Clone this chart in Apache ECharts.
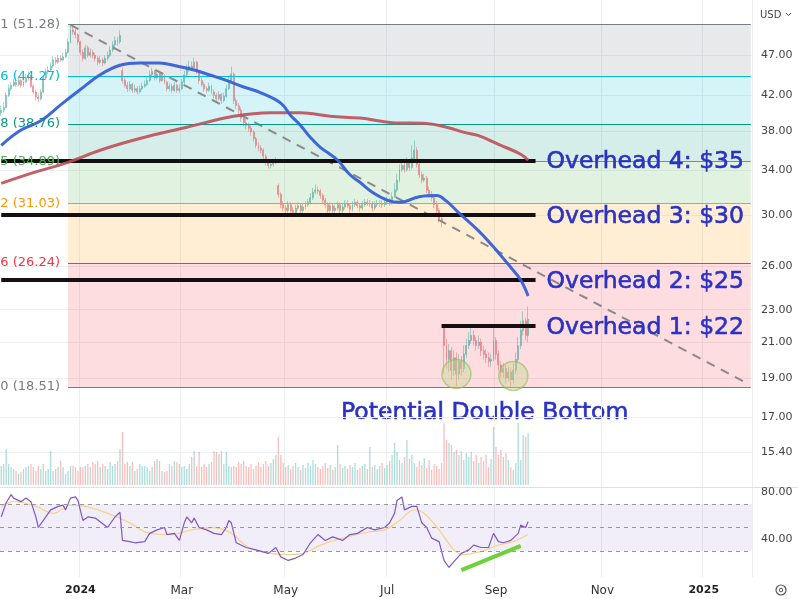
<!DOCTYPE html>
<html><head><meta charset="utf-8">
<script src="https://cdn.jsdelivr.net/npm/echarts@6/dist/echarts.min.js"></script>
<style>html,body{margin:0;padding:0;background:#fff}#c{width:798px;height:599px}</style>
</head><body><div id="c"></div>
<script>
// ---------- data ----------
const holidays = ['2023-11-23','2023-12-25','2024-01-01','2024-01-15','2024-02-19','2024-03-29','2024-05-27','2024-06-19','2024-07-04','2024-09-02','2024-11-28','2024-12-25','2025-01-01','2025-01-20'];
const startDate = '2023-11-14';
const totalBars = 304;

const closes = [
40.3,40.6,42.0,42.8,43.2,43.6,43.3,43.8,43.2,43.6,
44.1,44.4,43.1,42.4,41.8,41.6,42.4,44.1,44.9,45.1,
45.6,46.4,46.1,46.6,46.4,46.8,47.4,48.8,50.5,50.2,
49.8,48.8,47.4,46.6,48.0,47.0,47.4,47.0,46.6,46.1,
46.4,46.0,46.6,47.0,47.7,48.4,49.0,48.8,49.7,43.8,
43.2,42.8,43.3,42.6,42.8,42.4,42.8,43.1,43.3,43.8,
44.5,44.9,44.1,44.6,43.8,44.4,43.6,42.8,43.1,42.6,
43.2,42.6,42.8,43.6,44.5,45.1,45.6,45.4,46.1,44.9,
43.8,43.3,42.8,42.6,43.1,42.4,42.0,41.6,42.1,41.4,
41.9,42.8,43.8,44.6,41.4,40.8,40.3,39.4,38.9,38.6,
38.3,37.9,37.2,36.5,36.2,36.0,35.4,34.8,34.5,34.6,
34.8,35.0,31.8,30.9,30.6,30.4,30.9,30.4,30.2,30.6,
30.8,30.4,30.7,30.9,31.1,31.5,32.0,32.2,32.1,31.7,
31.3,30.9,30.4,30.8,30.4,30.6,30.9,30.4,30.7,31.0,
30.8,30.5,30.9,31.1,30.8,30.6,30.9,31.1,31.0,31.0,
30.6,30.9,31.0,31.0,30.9,31.1,31.3,31.0,31.6,32.2,
33.1,34.1,34.5,34.1,34.8,34.3,35.2,36.0,34.6,33.6,
33.1,33.3,32.2,31.8,31.5,30.9,30.4,29.7,29.4,20.8,
20.0,20.5,19.4,20.1,19.2,19.9,19.5,20.3,20.8,21.1,
21.4,21.1,20.8,21.0,20.5,20.3,20.1,19.9,20.0,21.1,
20.3,19.7,19.3,19.5,19.0,19.3,18.9,19.4,20.0,20.8,
21.7,22.3,21.4,22.4];
const highs = [
40.8,41.2,42.4,43.3,43.6,44.0,44.2,44.3,44.0,44.0,
44.6,44.9,44.5,43.3,42.7,42.2,42.7,44.4,45.3,45.6,
46.1,46.9,46.8,47.1,47.0,47.3,47.9,49.3,51.28,51.0,
50.6,50.0,49.0,47.8,48.4,48.3,47.9,47.8,47.3,46.9,
46.9,46.7,47.0,47.5,48.2,48.9,49.6,49.5,50.4,45.4,
44.2,43.6,43.7,43.5,43.3,43.1,43.2,43.5,43.8,44.3,
45.0,45.4,45.1,45.0,44.8,44.8,44.6,43.8,43.5,43.4,
43.6,43.4,43.3,44.0,45.0,45.8,46.3,46.2,46.7,46.3,
45.1,44.1,43.6,43.1,43.5,43.3,42.7,42.3,42.5,42.3,
42.3,43.3,44.4,45.5,44.8,41.7,41.1,40.6,39.7,39.3,
38.9,38.6,38.1,37.4,36.8,36.5,36.2,35.6,35.0,34.9,
35.1,35.3,32.8,32.0,31.2,30.9,31.2,31.1,30.7,30.9,
31.1,31.0,31.0,31.2,31.4,31.9,32.4,32.7,32.5,32.3,
31.9,31.5,31.1,31.1,31.0,30.9,31.2,31.1,31.0,31.3,
31.3,31.0,31.2,31.4,31.3,31.0,31.2,31.4,31.4,31.3,
31.2,31.2,31.3,31.3,31.3,31.4,31.6,31.5,32.0,32.8,
33.7,34.6,35.0,34.9,35.3,35.1,36.5,37.0,36.3,34.9,
33.9,33.7,33.5,32.5,32.1,31.7,31.2,30.6,30.0,22.0,
21.2,20.9,20.7,20.5,20.4,20.3,20.2,20.8,21.2,21.6,
21.9,21.7,21.3,21.4,21.2,20.8,20.6,20.4,20.3,22.0,
21.3,20.5,19.9,19.8,19.7,19.6,19.5,19.8,20.4,21.3,
22.3,22.9,22.5,23.2];
const lows = [
39.6,40.0,40.5,41.8,42.5,43.0,43.0,43.1,42.9,43.0,
43.4,43.8,42.9,42.1,41.4,41.2,41.4,42.3,43.9,44.6,
44.9,45.4,45.8,45.9,46.1,46.2,46.6,47.2,48.6,49.8,
49.3,48.4,47.0,46.2,46.4,46.7,46.7,46.6,46.2,45.7,
45.8,45.6,45.8,46.3,46.8,47.4,48.1,48.3,48.5,43.4,
42.9,42.4,42.5,42.3,42.3,42.1,42.2,42.6,42.9,43.1,
43.6,44.2,43.8,43.9,43.5,43.6,43.3,42.5,42.5,42.3,
42.4,42.3,42.3,42.6,43.4,44.3,44.9,45.0,45.2,44.6,
43.4,43.0,42.4,42.2,42.4,42.1,41.6,41.2,41.4,41.0,
41.2,41.7,42.6,43.5,41.0,40.4,39.9,39.0,38.5,38.2,
37.9,37.5,36.9,36.2,35.9,35.7,35.1,34.5,34.2,34.2,
34.4,34.6,31.5,30.6,30.3,30.1,30.2,30.1,30.0,30.0,
30.4,30.1,30.2,30.5,30.7,30.9,31.3,31.8,31.8,31.4,
31.0,30.6,30.1,30.2,30.1,30.2,30.4,30.1,30.2,30.5,
30.6,30.2,30.3,30.7,30.6,30.3,30.4,30.7,30.8,30.7,
30.3,30.4,30.7,30.7,30.6,30.7,30.9,30.8,30.9,31.5,
32.0,32.9,33.9,33.8,33.9,34.0,34.1,35.0,34.3,33.3,
32.8,32.9,31.9,31.5,31.2,30.6,30.1,29.4,29.0,19.2,
19.5,19.3,18.9,19.1,18.55,18.9,19.1,19.3,20.1,20.6,
20.9,20.8,20.5,20.6,20.2,20.0,19.8,19.6,19.6,19.9,
20.0,19.4,19.0,19.0,18.7,18.8,18.51,18.7,19.2,19.8,
20.6,21.4,21.1,21.0];
// opens on gap days (other days open at the previous close)
const gapOpens = {0: 40.0, 49: 45.0, 112: 32.6, 179: 21.9};
const volumes = [
19,21,36,21,18,16,14,11,13,16, 18,19,21,18,14,19,16,21,14,16,
34,14,16,18,24,18,11,14,19,19, 18,14,18,18,19,21,18,23,21,24,
18,21,19,16,23,19,21,24,36,53, 21,23,19,23,14,16,21,19,19,18,
14,18,24,26,24,14,13,14,21,19, 24,23,21,18,19,16,21,28,34,19,
33,18,21,18,21,23,34,33,31,34, 21,33,19,18,19,18,23,21,24,19,
18,21,16,19,23,18,21,24,19,22, 26,30,48,30,22,18,20,16,19,22,
18,15,20,17,22,19,25,21,18,16, 19,22,17,20,15,18,40,21,17,19,
16,20,18,22,15,17,19,21,16,38, 18,20,16,19,22,17,20,24,30,42,
33,25,22,28,45,26,30,22,18,24, 20,27,17,25,15,21,19,16,22,62,
45,42,40,33,35,30,34,25,32,28, 33,24,30,22,28,24,30,18,26,58,
38,30,35,28,32,25,18,15,22,62, 25,50,48,52];

const maFastIdx = [0,8,16,24,32,40,48,56,64,71,78,84,91,98,105,113,117,121,125,129,136,141,145,150,156,161,169,176,180,185,193,201,206,210,213];
const maFastVal = [36.5,38.1,39.1,40.9,42.7,44.5,45.7,46.0,46.0,45.6,45.1,44.5,43.8,43.0,42.3,41.1,39.7,38.6,37.3,36.3,35.0,33.6,32.9,32.0,31.3,31.1,31.6,31.7,31.2,30.2,28.7,27.0,25.9,25.0,23.9];
const maSlowIdx = [0,13,27,40,56,75,94,109,121,133,145,158,172,180,188,193,201,210,213];
const maSlowVal = [32.8,33.8,34.8,36.0,37.2,38.4,39.6,40.0,40.0,39.6,39.4,38.9,38.8,38.4,37.8,37.5,36.6,35.6,35.0];

const rsiIdx = [0,2,4,5,8,10,12,14,15,18, 20,23,25,26,28,30,31,33,35,38, 43,46,48,49,52,54,58,60,63,66, 67,70,72,74,75,77,78,80,83,86, 89,91,92,93,95,99,103,108,111,113, 116,119,122,125,128,131,134,138,141,144, 148,151,155,157,159,160,162,163,166,168, 170,172,174,177,179,181,183,186,189,191, 194,197,199,201,203,206,209,210,212,213];
const rsiVal = [59,71,78,75,72,75,72,59,50,59, 65,68,69,65,75,76,73,56,59,58, 50,59,63,39,38,37,38,45,48,50, 44,45,39,54,59,54,58,50,48,45, 44,50,56,54,37,33,31,28,33,25, 22,24,27,37,44,39,42,39,44,45, 50,48,50,54,62,73,76,65,68,68, 54,50,41,38,22,16,21,28,31,35, 33,33,45,38,37,39,45,52,50,55];
const rsiMaIdx = [0,5,14,21,28,34,43,52,60,69,77,86,93,100,109,115,122,129,138,148,155,161,167,171,177,183,187,193,201,207,213];
const rsiMaVal = [68,72,68,62,69,68,62,54,45,44,48,50,45,33,28,27,28,35,41,46,48,56,65,62,48,31,27,29,35,38,44];

const fibRatios = ['1','0.786','0.618','0.5','0.382','0.236','0'];
const fibPrices = [51.28,44.27,38.76,34.89,31.03,26.24,18.51];
const fibStartIdx = 27;

const overheadPrices = [35,30,25,22];
const overheadLabels = ['Overhead 4: $35','Overhead 3: $30','Overhead 2: $25','Overhead 1: $22'];
const overheadFrom = [0,0,0,178];
const overheadTo = [216,216,216,216];

const trendIdx = [28,302];
const trendVal = [51.2,18.67];
const circleIdx = [184,207];
const circleVal = [19.2,19.1];
const rsiTrendIdx = [186,210];
const rsiTrendVal = [13.8,34.3];

const priceTicks = [47,42,38,34,30,26,23,21,19,17,15.4];
const rsiTicks = [80,40];
const rsiLevels = [70,50,30];

// ---------- build ----------
const fibColors = ['#787b86','#00bcd4','#089981','#4caf50','#ff9800','#f23645','#787b86'];
function rgba(hex,a){const n=parseInt(hex.slice(1),16);return `rgba(${n>>16},${(n>>8)&255},${n&255},${a})`;}

const dates = [];
{
  let t = Date.parse(startDate + 'T00:00:00Z');
  while (dates.length < totalBars) {
    const d = new Date(t);
    const dow = d.getUTCDay();
    const s = d.toISOString().slice(0,10);
    if (dow !== 0 && dow !== 6 && holidays.indexOf(s) < 0) dates.push(s);
    t += 86400000;
  }
}
const monthNames = ['Jan','Feb','Mar','Apr','May','Jun','Jul','Aug','Sep','Oct','Nov','Dec'];
function isMark(i){
  if (i <= 0) return false;
  const m = +dates[i].slice(5,7), pm = +dates[i-1].slice(5,7);
  return m !== pm && (m - 1) % 2 === 0;
}
const opens = closes.map((c,i)=> gapOpens[i] !== undefined ? gapOpens[i] : closes[i-1]);
const candleData = closes.map((c,i)=>[opens[i], c, lows[i], highs[i]]);
const volData = volumes.map((v,i)=>({value:v, itemStyle:{color: closes[i] >= opens[i] ? 'rgba(38,166,154,0.38)' : 'rgba(239,83,80,0.38)'}}));
const pairs = (ix, vs) => ix.map((k,j)=>[dates[k], vs[j]]);

const lastIdx = totalBars - 1;
const fibArea = [];
for (let k = 0; k < fibPrices.length - 1; k++) {
  fibArea.push([{coord:[dates[fibStartIdx], fibPrices[k]], itemStyle:{color: rgba(fibColors[k],0.17)}}, {coord:[dates[lastIdx], fibPrices[k+1]]}]);
}
const fibLines = fibPrices.map((p,k)=>[
  {coord:[dates[fibStartIdx], p], name: fibRatios[k] + ' (' + p.toFixed(2) + ')', lineStyle:{color: fibColors[k], width:1.2, type:'solid'}, label:{color: fibColors[k]}},
  {coord:[dates[lastIdx], p]}
]);

const xCommon = {type:'category', data: dates, boundaryGap: true, axisLine:{show:false}, axisTick:{show:false}};
const annoColor = '#2a31c4';

const option = {
  animation: false,
  backgroundColor: '#ffffff',
  grid: [
    {left:0, right:46, top:0, height:487},
    {left:0, right:46, top:423, height:62},
    {left:0, right:46, top:488, height:89}
  ],
  xAxis: [
    Object.assign({gridIndex:0, axisLabel:{show:false}, splitLine:{show:true, interval:(i)=>isMark(i), lineStyle:{color:'#eceef2'}}}, xCommon),
    Object.assign({gridIndex:1, axisLabel:{show:false}, splitLine:{show:false}}, xCommon),
    Object.assign({gridIndex:2, splitLine:{show:true, interval:(i)=>isMark(i), lineStyle:{color:'#eceef2'}},
      axisLabel:{show:true, interval:(i)=>isMark(i), margin:8, color:'#333', fontSize:12, fontFamily:'DejaVu Sans',
        formatter:(v)=>{const m=+v.slice(5,7); return m===1 ? '{y|'+v.slice(0,4)+'}' : monthNames[m-1];},
        rich:{y:{fontWeight:'bold', fontSize:11, color:'#222', fontFamily:'DejaVu Sans'}}}}, xCommon)
  ],
  yAxis: [
    {gridIndex:0, type:'log', logBase:10, min:13.98, max:54.9, position:'right',
      axisLine:{show:false}, axisTick:{show:false, customValues: priceTicks},
      axisLabel:{customValues: priceTicks, formatter:(v)=>(+v).toFixed(2), color:'#444', fontSize:11, fontFamily:'DejaVu Sans', margin:9},
      splitLine:{show:true, lineStyle:{color:'#eef0f3'}}},
    {gridIndex:1, type:'value', min:0, max:62, show:false},
    {gridIndex:2, type:'value', min:7.9, max:83.6, position:'right',
      axisLine:{show:false}, axisTick:{show:false, customValues: rsiTicks},
      axisLabel:{customValues: rsiTicks, formatter:(v)=>(+v).toFixed(2), color:'#444', fontSize:11, fontFamily:'DejaVu Sans', margin:9},
      splitLine:{show:false}}
  ],
  series: [
    {name:'fib', type:'line', xAxisIndex:0, yAxisIndex:0, data:[], z:1, silent:true,
      markArea:{silent:true, data: fibArea},
      markLine:{silent:true, symbol:['none','none'], animation:false,
        label:{show:true, position:'start', distance:8, formatter:'{b}', fontSize:13, fontFamily:'DejaVu Sans'},
        data: fibLines}},
    {name:'volume', type:'bar', xAxisIndex:1, yAxisIndex:1, data: volData, barWidth:1.3, z:2, silent:true},
    {name:'price', type:'candlestick', xAxisIndex:0, yAxisIndex:0, data: candleData, barWidth:1.4, z:3, silent:true,
      itemStyle:{color:'rgba(60,160,150,0.55)', color0:'rgba(225,90,95,0.55)', borderColor:'rgba(60,160,150,0.55)', borderColor0:'rgba(225,90,95,0.55)', borderWidth:0.8}},
    {name:'trend', type:'line', xAxisIndex:0, yAxisIndex:0, data: pairs(trendIdx, trendVal), symbol:'none', z:4, silent:true,
      lineStyle:{color:'#8a8a8a', width:2, type:[9,7]}},
    {name:'sma200', type:'line', xAxisIndex:0, yAxisIndex:0, data: pairs(maSlowIdx, maSlowVal), symbol:'none', smooth:0.4, z:5, silent:true,
      lineStyle:{color:'#bd4f5a', width:3, opacity:0.9}},
    {name:'sma50', type:'line', xAxisIndex:0, yAxisIndex:0, data: pairs(maFastIdx, maFastVal), symbol:'none', smooth:0.4, z:6, silent:true,
      lineStyle:{color:'#3560d6', width:3, opacity:0.95}},
    {name:'overhead', type:'line', xAxisIndex:0, yAxisIndex:0, data:[], z:7, silent:true,
      markLine:{silent:true, symbol:['none','none'], animation:false,
        lineStyle:{color:'#141010', width:4, type:'solid'},
        label:{show:true, position:'end', distance:11, formatter:'{b}', color:annoColor, fontSize:23.5, fontFamily:'DejaVu Sans',
          textBorderColor:annoColor, textBorderWidth:0.6, offset:[0,2]},
        data: overheadPrices.map((p,k)=>[{coord:[dates[overheadFrom[k]], p], name: overheadLabels[k]}, {coord:[dates[overheadTo[k]], p]}])}},
    {name:'bottoms', type:'scatter', xAxisIndex:0, yAxisIndex:0, data: pairs(circleIdx, circleVal), symbolSize:29, z:8, silent:true,
      itemStyle:{color:'rgba(196,212,140,0.5)', borderColor:'rgba(140,190,90,0.75)', borderWidth:1.5}},
    {name:'rsiBand', type:'line', xAxisIndex:2, yAxisIndex:2, data:[], z:1, silent:true,
      markArea:{silent:true, itemStyle:{color:'rgba(126,87,194,0.1)'}, data:[[{yAxis:rsiLevels[0]},{yAxis:rsiLevels[2]}]]},
      markLine:{silent:true, symbol:['none','none'], label:{show:false}, animation:false,
        lineStyle:{color:'#9598a1', width:1, type:[4,4]},
        data: rsiLevels.map(v=>({yAxis:v}))}},
    {name:'rsiMa', type:'line', xAxisIndex:2, yAxisIndex:2, data: pairs(rsiMaIdx, rsiMaVal), symbol:'none', smooth:0.4, z:3, silent:true,
      lineStyle:{color:'#f3d58a', width:1.3}},
    {name:'rsi', type:'line', xAxisIndex:2, yAxisIndex:2, data: pairs(rsiIdx, rsiVal), symbol:'none', z:4, silent:true,
      lineStyle:{color:'#7e57c2', width:1.2}},
    {name:'rsiTrend', type:'line', xAxisIndex:2, yAxisIndex:2, data: pairs(rsiTrendIdx, rsiTrendVal), symbol:'none', z:5, silent:true,
      lineStyle:{color:'#6fd13a', width:4}}
  ],
  graphic: [
    {type:'line', shape:{x1:0, y1:487.5, x2:798, y2:487.5}, style:{stroke:'#dfe1e6', lineWidth:1}, silent:true},
    {type:'text', x:341, y:413, silent:true, style:{text:'Potential Double Bottom', font:'23.5px "DejaVu Sans"', fill:annoColor, stroke:annoColor, lineWidth:0.6, verticalAlign:'middle'}},
    {type:'text', x:760, y:15, silent:true, style:{text:'USD', font:'10px "DejaVu Sans"', fill:'#444', verticalAlign:'middle'}},
    {type:'polyline', shape:{points:[[786,13],[788.5,15.5],[791,13]]}, style:{stroke:'#444', lineWidth:1, fill:null}, silent:true},
    {type:'circle', shape:{cx:781, cy:590, r:5}, style:{stroke:'#555', lineWidth:1.2, fill:null}, silent:true},
    {type:'circle', shape:{cx:781, cy:590, r:1.8}, style:{stroke:'#555', lineWidth:1, fill:null}, silent:true}
  ]
};
const chart = echarts.init(document.getElementById('c'), null, {renderer:'canvas'});
chart.setOption(option);
</script>
</body></html>
